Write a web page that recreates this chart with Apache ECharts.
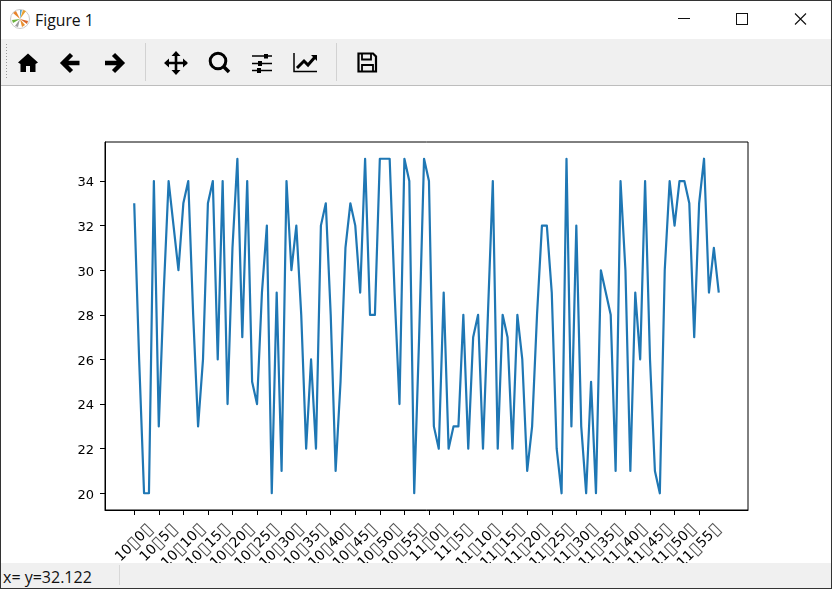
<!DOCTYPE html>
<html>
<head>
<meta charset="utf-8">
<script src="https://cdn.jsdelivr.net/npm/echarts@6/dist/echarts.min.js"></script>
<style>
html,body{margin:0;padding:0;width:832px;height:589px;overflow:hidden;background:#fff;}
#win{position:absolute;left:0;top:0;width:832px;height:589px;overflow:hidden;background:#fff;}
#title{position:absolute;left:0;top:0;width:832px;height:39px;background:#fff;}
#title span{position:absolute;left:35px;top:9px;font:15.8px "Open Sans","Noto Sans",sans-serif;color:#111;}
#tool{position:absolute;left:0;top:39px;width:832px;height:46px;background:#f0f0f0;border-bottom:1px solid #bdbdbd;z-index:3;}
#status{position:absolute;left:0;top:563px;width:832px;height:26px;background:#f0f0f0;z-index:3;}
#status span{position:absolute;left:3px;top:3px;font:16px "Open Sans","Noto Sans",sans-serif;color:#111;}
#status i{position:absolute;left:119px;top:2px;width:1px;height:20px;background:#d8d8d8;}
#main{position:absolute;left:0;top:86px;width:832px;height:477px;z-index:1;}
.ov{position:absolute;left:0;top:0;z-index:5;pointer-events:none;}
.edge{position:absolute;background:#333;z-index:6;}
</style>
</head>
<body>
<div id="win">
  <div id="title"><span>Figure 1</span></div>
  <div id="tool"></div>
  <div id="main"></div>
  <div id="status"><span>x= y=32.122</span><i></i></div>
  <svg class="ov" width="832" height="90" viewBox="0 0 832 90">
    <g>
      <circle cx="20" cy="19" r="9.5" fill="#fff" stroke="#c8c8c8"/>
      <path d="M20 19L13 13L16 11Z" fill="#e8842c"/><path d="M20 19L26 11L23 10Z" fill="#e8a030"/>
      <path d="M20 19L27 24L28 21Z" fill="#d9662a"/><path d="M20 19L22 27L25 25Z" fill="#e89030"/>
      <path d="M20 19L12 20L13 23Z" fill="#6db33f"/><path d="M20 19L15 26L18 27Z" fill="#9c9c9c"/>
      <path d="M20 19L20 10L22 10Z" fill="#5aa7d0"/>
    </g>
    <path d="M678 18.5H690" stroke="#111" fill="none"/>
    <rect x="736.5" y="13.5" width="11" height="11" stroke="#111" fill="none"/>
    <path d="M795 13.5L806 24.5M806 13.5L795 24.5" stroke="#111" stroke-width="1.1" fill="none"/>
    <g fill="#9a9a9a"><rect x="6" y="44" width="1" height="1"/><rect x="6" y="47" width="1" height="1"/><rect x="6" y="50" width="1" height="1"/><rect x="6" y="53" width="1" height="1"/><rect x="6" y="56" width="1" height="1"/><rect x="6" y="59" width="1" height="1"/><rect x="6" y="62" width="1" height="1"/><rect x="6" y="65" width="1" height="1"/><rect x="6" y="68" width="1" height="1"/><rect x="6" y="71" width="1" height="1"/><rect x="6" y="74" width="1" height="1"/><rect x="6" y="77" width="1" height="1"/></g>
    <rect x="145" y="43" width="1" height="38" fill="#d2d2d2"/>
    <rect x="336" y="43" width="1" height="38" fill="#d2d2d2"/>
    <path d="M28 53.5L18 62.5L20.5 64V72H26V66H30V72H35.5V64L38 62.5Z" fill="#000"/>
    <path d="M71.5 54.5L63 63L71.5 71.5M64 63H79.5" stroke="#000" stroke-width="4.4" fill="none"/>
    <path d="M113.5 54.5L122 63L113.5 71.5M121 63H105" stroke="#000" stroke-width="4.4" fill="none"/>
    <path d="M176 53V73M166 63H187" stroke="#000" stroke-width="2.6" fill="none"/>
    <path d="M176 51L171.5 56H180.5ZM176 75L171.5 70H180.5ZM164 63L169 58.5V67.5ZM188 63L183 58.5V67.5Z" fill="#000"/>
    <circle cx="218" cy="61" r="7.8" fill="none" stroke="#000" stroke-width="3"/>
    <path d="M223.5 66.5L229 72" stroke="#000" stroke-width="3.6" fill="none"/>
    <path d="M252 56H272M252 63.5H272M252 70.5H272" stroke="#000" stroke-width="1.6" fill="none"/>
    <path d="M264 54h4v4.5h-4zM258 61h4v5h-4zM257 68h4v5h-4z" fill="#000"/>
    <path d="M294 53V71.5H317" stroke="#000" stroke-width="1.5" fill="none"/>
    <path d="M297 68L304 61L308 65L315 57" stroke="#000" stroke-width="3" fill="none"/>
    <path d="M311 55H317V61Z" fill="#000"/>
    <path d="M358.5 53.5H373L376 56.5V71.5H358.5Z" stroke="#000" stroke-width="2.2" fill="none"/>
    <path d="M362 54V59.5H371V54M362 71V65H373V71" stroke="#000" stroke-width="1.8" fill="none"/>
  </svg>
  <div class="edge" style="left:0;top:0;width:832px;height:1px"></div>
  <div class="edge" style="left:0;top:0;width:1px;height:589px"></div>
  <div class="edge" style="right:0;top:0;width:1px;height:589px"></div>
  <div class="edge" style="left:0;bottom:0;width:832px;height:1px"></div>
</div>
<script>
var tickPositions = [0,5,10,15,20,25,30,35,40,45,50,55,60,65,70,75,80,85,90,95,100,105,110,115];
var tickLabels = ["10▯0▯","10▯5▯","10▯10▯","10▯15▯","10▯20▯","10▯25▯","10▯30▯","10▯35▯","10▯40▯","10▯45▯","10▯50▯","10▯55▯","11▯0▯","11▯5▯","11▯10▯","11▯15▯","11▯20▯","11▯25▯","11▯30▯","11▯35▯","11▯40▯","11▯45▯","11▯50▯","11▯55▯"];
var yTicks = [20,22,24,26,28,30,32,34];
var values = [33,26,20,20,34,23,29,34,32,30,33,34,28,23,26,33,34,26,34,24,31,35,27,34,25,24,29,32,20,29,21,34,30,32,28,22,26,22,32,33,28,21,25,31,33,32,29,35,28,28,35,35,35,29,24,35,34,20,27,35,34,23,22,29,22,23,23,28,22,27,28,22,28,34,22,28,27,22,28,26,21,23,28,32,32,29,22,20,35,23,32,23,20,25,20,30,29,28,21,34,30,21,29,26,34,26,21,20,30,34,32,34,34,33,27,33,35,29,31,29];

function richLabel(text){
  var parts = text.split('▯');
  var short = text.length === 5;
  var d = short ? 'ds' : 'd', t = short ? 'ts' : 't';
  return '{' + (short ? 'ds1' : 'd') + '|' + parts[0] + '}{' + t + '|▯}{' + d + '|' + parts[1] + '}{' + t + '|▯}';
}
var digit = {color:'#000', fontFamily:'DejaVu Sans', fontSize:13.9};
var tofu = {color:'#555', fontFamily:'DejaVu Sans', fontSize:18};
// empty sentinel labels keep the library's first/last label overlap rule away from the real labels
var labelPositions = [-5].concat(tickPositions, [120]);

var chart = echarts.init(document.getElementById('main'), null, {renderer:'canvas', width:832, height:477});
chart.setOption({
  animation:false,
  backgroundColor:'#fff',
  grid:{left:105, right:84, top:56, bottom:53, outerBoundsMode:'none', containLabel:false, show:true, borderColor:'#000', borderWidth:1, backgroundColor:'transparent'},
  xAxis:{
    type:'value', min:-5.95, max:124.95, splitLine:{show:false},
    axisLine:{onZero:false, lineStyle:{color:'#000',width:1}},
    axisTick:{length:5, lineStyle:{color:'#000',width:1}, customValues:tickPositions},
    axisLabel:{
      customValues:labelPositions, rotate:45, align:'center', verticalAlign:'middle', margin:36,
      hideOverlap:false,
      color:'#000', fontFamily:'DejaVu Sans', fontSize:13.9,
      formatter:function(v){var k=tickPositions.indexOf(v); return k<0 ? '' : richLabel(tickLabels[k]);},
      rich:{
        d:digit, t:tofu,
        ds:Object.assign({padding:[0,0,4,0]},digit),
        ds1:Object.assign({padding:[0,0,4,4]},digit),
        ts:Object.assign({padding:[0,0,4,0]},tofu)
      }
    }
  },
  yAxis:{
    type:'value', min:19.25, max:35.75, splitLine:{show:false},
    axisLine:{show:true, onZero:false, lineStyle:{color:'#000',width:1}},
    axisTick:{show:true, length:5, lineStyle:{color:'#000',width:1}, customValues:yTicks},
    axisLabel:{customValues:yTicks, margin:11, color:'#000', fontFamily:'DejaVu Sans', fontSize:13,
      formatter:function(v){return '{a|'+v+'}';},
      rich:{a:{padding:[4,0,0,0], color:'#000', fontFamily:'DejaVu Sans', fontSize:13}}}
  },
  series:[{
    type:'line', data:values.map(function(v,i){return [i,v];}), showSymbol:false, symbol:'none',
    lineStyle:{color:'#1f77b4', width:2.2, join:'round'}, clip:false
  }]
});
</script>
</body>
</html>
